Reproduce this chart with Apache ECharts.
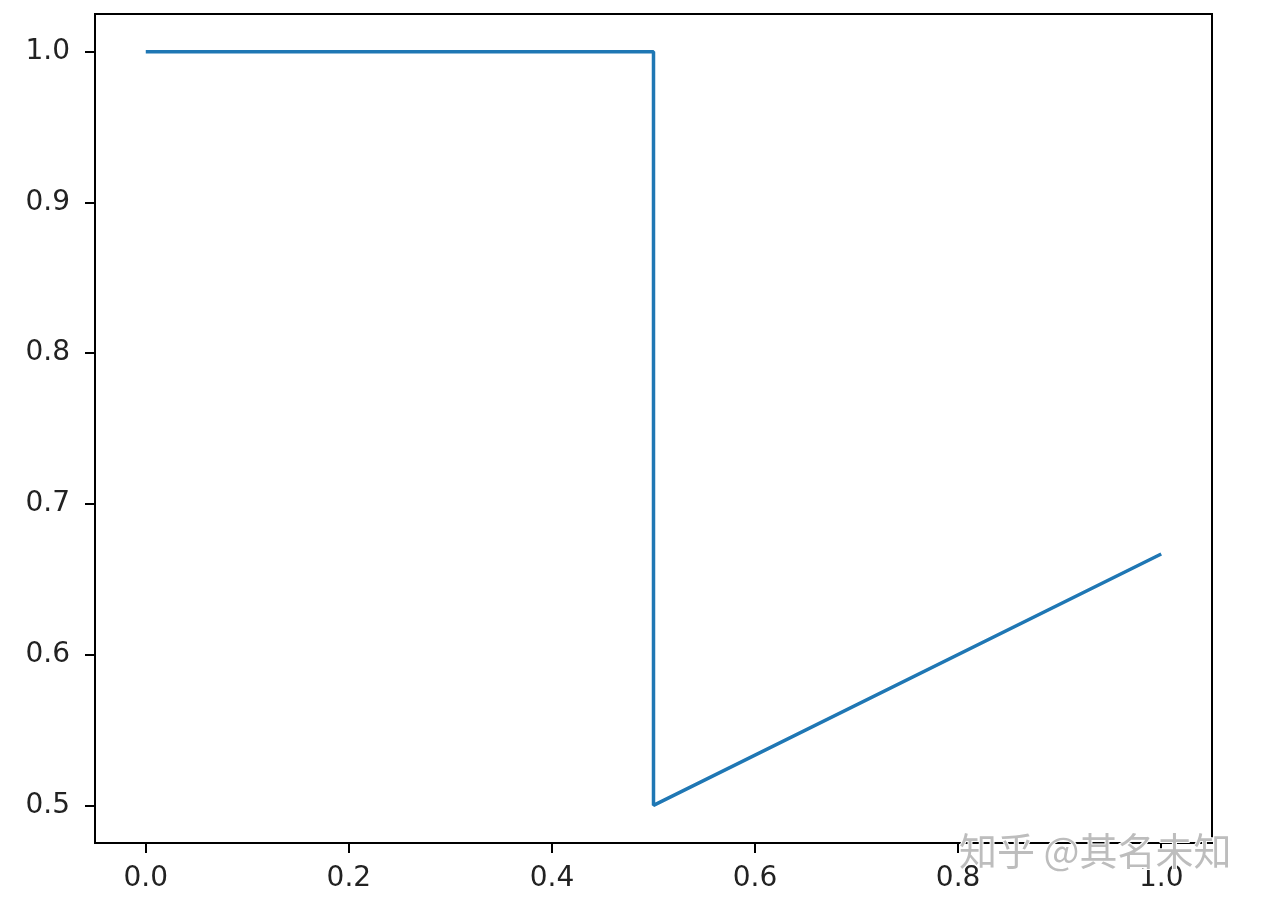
<!DOCTYPE html>
<html>
<head>
<meta charset="utf-8">
<script src="https://cdn.jsdelivr.net/npm/echarts@6/dist/echarts.min.js"></script>
<style>
  html, body { margin: 0; padding: 0; background: #fff; }
  #main { width: 1266px; height: 906px; }
</style>
</head>
<body>
<div id="main"></div>
<script>
// curve points
var xs = [0.0, 0.5, 0.5, 1.0];
var ys = [1.0, 1.0, 0.5, 0.6667];

var xTicks = [0.0, 0.2, 0.4, 0.6, 0.8, 1.0];
var yTicks = [0.5, 0.6, 0.7, 0.8, 0.9, 1.0];

var watermark = '知乎 @其名未知';

var points = [];
for (var i = 0; i < xs.length; i++) {
    points.push([xs[i], ys[i]]);
}

var myChart = echarts.init(document.getElementById('main'));
myChart.setOption({
    animation: false,
    backgroundColor: '#fff',
    grid: {
        left: 95,
        right: 54,
        top: 14,
        bottom: 63,
        show: true,
        borderColor: '#000',
        borderWidth: 2,
        backgroundColor: 'transparent'
    },
    xAxis: {
        type: 'value',
        min: -0.05,
        max: 1.05,
        splitLine: { show: false },
        axisLine: { show: true, onZero: false, lineStyle: { color: '#000', width: 2 } },
        axisTick: {
            show: true,
            length: 10,
            customValues: xTicks,
            lineStyle: { color: '#000', width: 2 }
        },
        axisLabel: {
            customValues: xTicks,
            margin: 22,
            fontSize: 28,
            fontFamily: 'DejaVu Sans',
            color: '#222',
            formatter: function (v) { return v.toFixed(1); }
        }
    },
    yAxis: {
        type: 'value',
        min: 0.475,
        max: 1.025,
        splitLine: { show: false },
        axisLine: { show: true, onZero: false, lineStyle: { color: '#000', width: 2 } },
        axisTick: {
            show: true,
            length: 10,
            customValues: yTicks,
            lineStyle: { color: '#000', width: 2 }
        },
        axisLabel: {
            customValues: yTicks,
            margin: 25,
            fontSize: 28,
            fontFamily: 'DejaVu Sans',
            color: '#222',
            formatter: function (v) { return v.toFixed(1); }
        }
    },
    series: [{
        type: 'line',
        data: points,
        symbol: 'none',
        lineStyle: { color: '#1f77b4', width: 3.5 }
    }],
    graphic: [{
        type: 'text',
        left: 958,
        top: 831,
        z: 100,
        style: {
            text: watermark,
            fontSize: 38,
            fontFamily: 'Noto Sans CJK SC',
            fill: '#bdbdbd',
            stroke: '#fff',
            lineWidth: 2
        }
    }]
});
</script>
</body>
</html>
